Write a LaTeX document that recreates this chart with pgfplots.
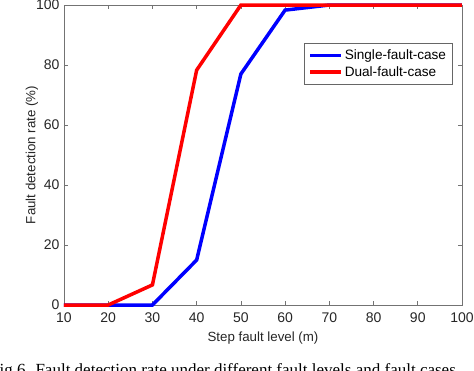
\documentclass[border=0pt]{standalone}
\usepackage{fontspec}
\setmainfont{Liberation Sans}
\newfontfamily\capfont{Liberation Serif}
\usepackage{pgfplots}
\pgfplotsset{compat=1.18}
\begin{document}
\fontsize{13}{15}\selectfont
\begin{tikzpicture}
\begin{axis}[
  width=398pt, height=300pt, scale only axis,
  xmin=10, xmax=100, ymin=0, ymax=100,
  xtick={10,20,...,100}, ytick={0,20,...,100},
  tick align=inside, major tick length=4pt,
  axis line style={black!55, line width=0.6pt},
  every tick/.style={black!55, line width=0.6pt},
  tick label style={font=\fontsize{14}{16}\selectfont, text=black!85},
  xticklabel style={yshift=-3pt},
  /pgf/number format/assume math mode=true,
  xlabel={Step fault level (m)},
  ylabel={Fault detection rate (\%)},
  label style={font=\fontsize{13.3}{15}\selectfont, text=black!85},
  xlabel style={at={(axis description cs:0.5,-0.11)}, anchor=center},
  ylabel style={at={(axis description cs:-0.0804,0.5)}, anchor=center},
  legend style={at={(rel axis cs:0.603,0.873)}, anchor=north west,
    draw=black!60, line width=0.6pt, font=\fontsize{13.6}{16}\selectfont,
    inner xsep=4pt, inner ysep=4pt, row sep=1pt},
  legend cell align=left,
  legend image code/.code={\draw[#1, line width=3.5pt] (0pt,0pt) -- (31pt,0pt);},
  clip=false,
]
\addplot[blue, line width=3.5pt] coordinates {(10,0) (20,0) (30,0) (40,15) (50,77) (60,98.3) (70,100) (80,100) (90,100) (100,100)};
\addlegendentry{Single-fault-case}
\addplot[red, line width=3.5pt] coordinates {(10,0) (20,0) (30,6.7) (40,78.3) (50,100) (60,100) (70,100) (80,100) (90,100) (100,100)};
\addlegendentry{Dual-fault-case}
\node[anchor=north east, inner sep=0pt, font=\capfont\fontsize{17}{19}\selectfont] at (rel axis cs:0.985,-0.193) {Fig.6. Fault detection rate under different fault levels and fault cases};
\coordinate (bl) at (rel axis cs:-0.1608,-0.2167);
\coordinate (tr) at (rel axis cs:1.0302,1.0167);
\end{axis}
\pgfresetboundingbox
\path[use as bounding box] (bl) rectangle (tr);
\end{tikzpicture}
\end{document}
